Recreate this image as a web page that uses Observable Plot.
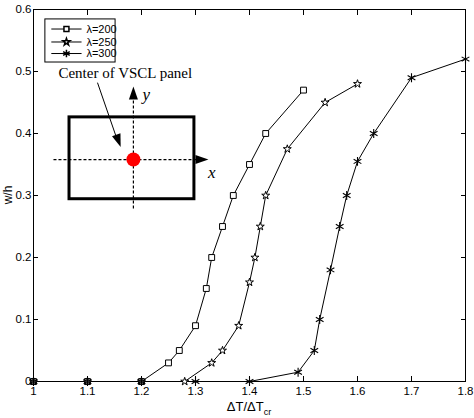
<!DOCTYPE html>
<html><head><meta charset="utf-8">
<script src="https://cdn.jsdelivr.net/npm/d3@7"></script>
<script src="https://cdn.jsdelivr.net/npm/@observablehq/plot@0.6"></script>
<style>body{margin:0;background:#fff}</style>
</head><body><div id="chart"></div>
<script>
// ---- data ----
const seriesLabels = ["λ=200", "λ=250", "λ=300"];
const x200 = [1, 1.1, 1.2, 1.25, 1.27, 1.3, 1.32, 1.33, 1.35, 1.37, 1.4, 1.43, 1.5];
const y200 = [0, 0, 0, 0.03, 0.05, 0.09, 0.15, 0.2, 0.25, 0.3, 0.35, 0.4, 0.47];
const x250 = [1, 1.1, 1.2, 1.28, 1.33, 1.35, 1.38, 1.4, 1.41, 1.42, 1.43, 1.47, 1.54, 1.6];
const y250 = [0, 0, 0, 0, 0.03, 0.05, 0.09, 0.16, 0.2, 0.25, 0.3, 0.375, 0.45, 0.48];
const x300 = [1, 1.1, 1.2, 1.3, 1.4, 1.49, 1.52, 1.53, 1.55, 1.567, 1.58, 1.6, 1.63, 1.7, 1.8];
const y300 = [0, 0, 0, 0, 0, 0.015, 0.05, 0.1, 0.18, 0.25, 0.3, 0.355, 0.4, 0.49, 0.52];
const xTicks = [1, 1.1, 1.2, 1.3, 1.4, 1.5, 1.6, 1.7, 1.8];
const yTicks = [0, 0.1, 0.2, 0.3, 0.4, 0.5, 0.6];
const xLabel = "ΔT/ΔT";
const xLabelSub = "cr";
const yLabel = "w/h";
const insetText = "Center of VSCL panel";

// ---- build table ----
const rows = (xs, ys, s) => xs.map((x, i) => ({x, y: ys[i], s}));
const s200 = rows(x200, y200, seriesLabels[0]);
const s250 = rows(x250, y250, seriesLabels[1]);
const s300 = rows(x300, y300, seriesLabels[2]);
const all = [...s200, ...s250, ...s300];
const symbols = ["square", "star", "asterisk"];

// ---- annotation layout (in data coordinates) ----
const legendRowY = [0.5685, 0.5476, 0.529];
const legend = seriesLabels.map((label, i) => ({label, y: legendRowY[i], symbol: symbols[i]}));
const arrowHead = {draw(ctx) { ctx.moveTo(0, -7); ctx.lineTo(4.5, 6); ctx.lineTo(-4.5, 6); ctx.closePath(); }};
const cx = 1.185, cy = 0.358;
const serif = "'Liberation Serif', 'Times New Roman', serif";

const plot = Plot.plot({
  width: 474, height: 418,
  marginLeft: 33, marginRight: 9, marginTop: 9, marginBottom: 37,
  x: {domain: [1, 1.8]},
  y: {domain: [0, 0.6]},
  style: {fontFamily: "'Liberation Sans', Arial, sans-serif", fontSize: "11.5px", color: "black", background: "white"},
  marks: [
    Plot.frame({stroke: "black"}),
    Plot.axisX(xTicks, {anchor: "bottom", tickSize: -5, tickPadding: 10, tickFormat: d => String(d), label: null}),
    Plot.axisX(xTicks, {anchor: "top", tickSize: -5, tickFormat: () => "", label: null}),
    Plot.axisY(yTicks, {anchor: "left", tickSize: -5, tickPadding: 7, tickFormat: d => String(d), label: null}),
    Plot.axisY(yTicks, {anchor: "right", tickSize: -5, tickFormat: () => "", label: null}),
    Plot.line(all, {x: "x", y: "y", z: "s", stroke: "black", strokeWidth: 1}),
    Plot.dot(s200, {x: "x", y: "y", symbol: "square", r: 3.3, stroke: "black", fill: "white", strokeWidth: 1}),
    Plot.dot(s250, {x: "x", y: "y", symbol: "star", r: 2.5, stroke: "black", fill: "white", strokeWidth: 1}),
    Plot.dot(s300, {x: "x", y: "y", symbol: "asterisk", r: 4.2, stroke: "black", strokeWidth: 1.1}),
    // legend
    Plot.rect([0], {x1: 1.022, x2: 1.152, y1: 0.5145, y2: 0.584, stroke: "black", fill: "white", strokeWidth: 1}),
    Plot.link(legend, {x1: 1.033, x2: 1.089, y1: "y", y2: "y", stroke: "black"}),
    Plot.dot(legend.slice(0, 1), {x: 1.061, y: "y", symbol: "square", r: 2.8, stroke: "black", fill: "white"}),
    Plot.dot(legend.slice(1, 2), {x: 1.061, y: "y", symbol: "star", r: 2.2, stroke: "black", fill: "white"}),
    Plot.dot(legend.slice(2), {x: 1.061, y: "y", symbol: "asterisk", r: 3.6, stroke: "black"}),
    Plot.text(legend, {x: 1.098, y: "y", text: "label", textAnchor: "start", fontSize: 11}),
    // inset diagram
    Plot.rect([0], {x1: 1.0667, x2: 1.298, y1: 0.294, y2: 0.426, stroke: "black", fill: "none", strokeWidth: 3}),
    Plot.link([0], {x1: 1.037, x2: 1.31, y1: cy, y2: cy, stroke: "black", strokeWidth: 1.2, strokeDasharray: "3,2"}),
    Plot.link([0], {x1: cx, x2: cx, y1: 0.279, y2: 0.455, stroke: "black", strokeWidth: 1.2, strokeDasharray: "3,2"}),
    Plot.dot([0], {x: 1.311, y: cy, symbol: arrowHead, rotate: 90, fill: "black", stroke: "none"}),
    Plot.dot([0], {x: cx, y: 0.4645, symbol: arrowHead, fill: "black", stroke: "none"}),
    Plot.dot([0], {x: cx, y: cy, r: 7, fill: "#f00", stroke: "none"}),
    Plot.text(["x"], {x: 1.330, y: 0.337, text: d => d, fontFamily: serif, fontStyle: "italic", fontSize: 17}),
    Plot.text(["y"], {x: 1.209, y: 0.463, text: d => d, fontFamily: serif, fontStyle: "italic", fontSize: 17}),
    Plot.text([insetText], {x: 1.170, y: 0.497, text: d => d, fontFamily: serif, fontSize: 15}),
    Plot.link([0], {x1: 1.1185, y1: 0.482, x2: 1.155, y2: 0.39, stroke: "black", strokeWidth: 1}),
    Plot.dot([0], {x: 1.157, y: 0.389, symbol: arrowHead, rotate: 160, fill: "black", stroke: "none"})
  ]
});

const svg = d3.select(plot);
const sx = plot.scale("x"), sy = plot.scale("y");
const xl = svg.append("text")
  .attr("x", sx.apply(1.4)).attr("y", 411).attr("text-anchor", "middle")
  .attr("font-size", 13).attr("font-family", "'Liberation Sans', Arial, sans-serif").attr("fill", "black");
xl.append("tspan").text(xLabel);
xl.append("tspan").attr("font-size", 9).attr("dy", 4).text(xLabelSub);
svg.append("text")
  .attr("transform", `translate(12,${sy.apply(0.3)}) rotate(-90)`)
  .attr("text-anchor", "middle").attr("font-size", 12)
  .attr("font-family", "'Liberation Sans', Arial, sans-serif").attr("fill", "black").text(yLabel);

document.getElementById("chart").appendChild(plot);
</script>
</body></html>
